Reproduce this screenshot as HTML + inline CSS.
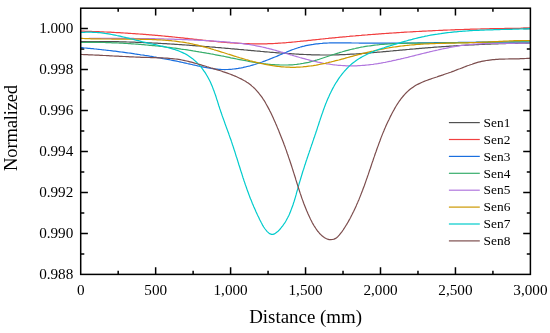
<!DOCTYPE html>
<html><head><meta charset="utf-8"><title>Normalized vs Distance</title>
<style>html,body{margin:0;padding:0;background:#fff;}svg{display:block;}text{font-family:"Liberation Serif","Times New Roman",serif;fill:#000;}</style></head><body>
<svg width="550" height="333" viewBox="0 0 550 333">
<rect x="0" y="0" width="550" height="333" fill="#fff"/>
<path d="M118.18,274.4v-3.6 M118.18,8.2v3.6 M155.65,274.4v-7.2 M155.65,8.2v7.2 M193.12,274.4v-3.6 M193.12,8.2v3.6 M230.60,274.4v-7.2 M230.60,8.2v7.2 M268.07,274.4v-3.6 M268.07,8.2v3.6 M305.55,274.4v-7.2 M305.55,8.2v7.2 M343.02,274.4v-3.6 M343.02,8.2v3.6 M380.50,274.4v-7.2 M380.50,8.2v7.2 M417.97,274.4v-3.6 M417.97,8.2v3.6 M455.45,274.4v-7.2 M455.45,8.2v7.2 M492.92,274.4v-3.6 M492.92,8.2v3.6 M80.7,253.94h3.6 M530.4,253.94h-3.6 M80.7,233.45h7.2 M530.4,233.45h-7.2 M80.7,212.97h3.6 M530.4,212.97h-3.6 M80.7,192.48h7.2 M530.4,192.48h-7.2 M80.7,172.00h3.6 M530.4,172.00h-3.6 M80.7,151.51h7.2 M530.4,151.51h-7.2 M80.7,131.03h3.6 M530.4,131.03h-3.6 M80.7,110.54h7.2 M530.4,110.54h-7.2 M80.7,90.06h3.6 M530.4,90.06h-3.6 M80.7,69.57h7.2 M530.4,69.57h-7.2 M80.7,49.09h3.6 M530.4,49.09h-3.6 M80.7,28.60h7.2 M530.4,28.60h-7.2" stroke="#000" stroke-width="1.5" fill="none"/>
<g fill="none" stroke-width="1.2" stroke-linejoin="round">
<path stroke="#515151" d="M80.7,41.6 L82.2,41.6 L83.7,41.6 L85.2,41.6 L86.7,41.6 L88.2,41.5 L89.7,41.5 L91.2,41.5 L92.7,41.5 L94.2,41.5 L95.7,41.5 L97.2,41.5 L98.7,41.5 L100.2,41.5 L101.7,41.5 L103.2,41.5 L104.7,41.5 L106.2,41.6 L107.7,41.6 L109.2,41.6 L110.7,41.6 L112.2,41.6 L113.7,41.7 L115.2,41.7 L116.7,41.7 L118.2,41.7 L119.7,41.8 L121.2,41.8 L122.7,41.8 L124.2,41.9 L125.7,41.9 L127.2,42.0 L128.7,42.0 L130.2,42.1 L131.7,42.1 L133.2,42.2 L134.7,42.2 L136.2,42.3 L137.7,42.3 L139.2,42.4 L140.7,42.5 L142.2,42.5 L143.7,42.6 L145.2,42.6 L146.7,42.7 L148.2,42.8 L149.7,42.9 L151.2,42.9 L152.7,43.0 L154.2,43.1 L155.7,43.2 L157.2,43.2 L158.7,43.3 L160.2,43.4 L161.7,43.5 L163.2,43.6 L164.7,43.7 L166.2,43.7 L167.7,43.8 L169.2,43.9 L170.7,44.0 L172.2,44.1 L173.7,44.2 L175.2,44.3 L176.7,44.4 L178.2,44.5 L179.7,44.6 L181.2,44.7 L182.7,44.8 L184.2,44.9 L185.7,45.0 L187.2,45.1 L188.7,45.2 L190.2,45.3 L191.7,45.5 L193.2,45.6 L194.7,45.7 L196.2,45.8 L197.7,45.9 L199.2,46.0 L200.7,46.1 L202.2,46.3 L203.7,46.4 L205.2,46.5 L206.7,46.6 L208.2,46.7 L209.7,46.9 L211.2,47.0 L212.7,47.1 L214.2,47.2 L215.7,47.4 L217.2,47.5 L218.7,47.6 L220.2,47.7 L221.7,47.9 L223.2,48.0 L224.7,48.1 L226.2,48.3 L227.7,48.4 L229.2,48.5 L230.7,48.7 L232.2,48.8 L233.7,48.9 L235.2,49.1 L236.7,49.2 L238.2,49.3 L239.7,49.5 L241.2,49.6 L242.7,49.7 L244.2,49.9 L245.7,50.0 L247.2,50.1 L248.7,50.3 L250.2,50.4 L251.7,50.6 L253.2,50.7 L254.7,50.8 L256.2,51.0 L257.7,51.1 L259.2,51.2 L260.7,51.4 L262.2,51.5 L263.7,51.6 L265.2,51.8 L266.7,51.9 L268.2,52.0 L269.7,52.2 L271.2,52.3 L272.7,52.4 L274.2,52.5 L275.7,52.6 L277.2,52.8 L278.7,52.9 L280.2,53.0 L281.7,53.1 L283.2,53.2 L284.7,53.3 L286.2,53.4 L287.7,53.5 L289.2,53.6 L290.7,53.7 L292.2,53.8 L293.7,53.9 L295.2,54.0 L296.7,54.1 L298.2,54.2 L299.7,54.3 L301.2,54.3 L302.7,54.4 L304.2,54.5 L305.7,54.5 L307.2,54.6 L308.7,54.7 L310.2,54.7 L311.7,54.8 L313.2,54.8 L314.7,54.8 L316.2,54.9 L317.7,54.9 L319.2,54.9 L320.7,55.0 L322.2,55.0 L323.7,55.0 L325.2,55.0 L326.7,55.0 L328.2,55.0 L329.7,55.0 L331.2,55.0 L332.7,54.9 L334.2,54.9 L335.7,54.9 L337.2,54.8 L338.7,54.8 L340.2,54.7 L341.7,54.7 L343.2,54.6 L344.7,54.6 L346.2,54.5 L347.7,54.4 L349.2,54.3 L350.7,54.2 L352.2,54.2 L353.7,54.1 L355.2,54.0 L356.7,53.9 L358.2,53.8 L359.7,53.7 L361.2,53.6 L362.7,53.4 L364.2,53.3 L365.7,53.2 L367.2,53.1 L368.7,53.0 L370.2,52.9 L371.7,52.7 L373.2,52.6 L374.7,52.5 L376.2,52.4 L377.7,52.2 L379.2,52.1 L380.7,52.0 L382.2,51.8 L383.7,51.7 L385.2,51.6 L386.7,51.4 L388.2,51.3 L389.7,51.2 L391.2,51.0 L392.7,50.9 L394.2,50.7 L395.7,50.6 L397.2,50.5 L398.7,50.3 L400.2,50.2 L401.7,50.1 L403.2,49.9 L404.7,49.8 L406.2,49.6 L407.7,49.5 L409.2,49.4 L410.7,49.2 L412.2,49.1 L413.7,49.0 L415.2,48.8 L416.7,48.7 L418.2,48.6 L419.7,48.4 L421.2,48.3 L422.7,48.2 L424.2,48.1 L425.7,47.9 L427.2,47.8 L428.7,47.7 L430.2,47.6 L431.7,47.5 L433.2,47.3 L434.7,47.2 L436.2,47.1 L437.7,47.0 L439.2,46.9 L440.7,46.8 L442.2,46.7 L443.7,46.6 L445.2,46.5 L446.7,46.4 L448.2,46.3 L449.7,46.2 L451.2,46.1 L452.7,46.0 L454.2,45.9 L455.7,45.8 L457.2,45.7 L458.7,45.6 L460.2,45.5 L461.7,45.4 L463.2,45.3 L464.7,45.3 L466.2,45.2 L467.7,45.1 L469.2,45.0 L470.7,44.9 L472.2,44.9 L473.7,44.8 L475.2,44.7 L476.7,44.6 L478.2,44.6 L479.7,44.5 L481.2,44.4 L482.7,44.4 L484.2,44.3 L485.7,44.2 L487.2,44.2 L488.7,44.1 L490.2,44.1 L491.7,44.0 L493.2,43.9 L494.7,43.9 L496.2,43.8 L497.7,43.8 L499.2,43.7 L500.7,43.7 L502.2,43.6 L503.7,43.6 L505.2,43.6 L506.7,43.5 L508.2,43.5 L509.7,43.4 L511.2,43.4 L512.7,43.4 L514.2,43.3 L515.7,43.3 L517.2,43.3 L518.7,43.2 L520.2,43.2 L521.7,43.2 L523.2,43.1 L524.7,43.1 L526.2,43.1 L527.7,43.1 L530.4,43.0"/>
<path stroke="#F14040" d="M80.7,31.1 L82.2,31.2 L83.7,31.2 L85.2,31.3 L86.7,31.3 L88.2,31.3 L89.7,31.4 L91.2,31.4 L92.7,31.5 L94.2,31.5 L95.7,31.6 L97.2,31.7 L98.7,31.7 L100.2,31.8 L101.7,31.8 L103.2,31.9 L104.7,32.0 L106.2,32.0 L107.7,32.1 L109.2,32.2 L110.7,32.2 L112.2,32.3 L113.7,32.4 L115.2,32.5 L116.7,32.6 L118.2,32.6 L119.7,32.7 L121.2,32.8 L122.7,32.9 L124.2,33.0 L125.7,33.1 L127.2,33.2 L128.7,33.3 L130.2,33.4 L131.7,33.5 L133.2,33.6 L134.7,33.7 L136.2,33.8 L137.7,33.9 L139.2,34.0 L140.7,34.1 L142.2,34.2 L143.7,34.3 L145.2,34.4 L146.7,34.6 L148.2,34.7 L149.7,34.8 L151.2,34.9 L152.7,35.1 L154.2,35.2 L155.7,35.3 L157.2,35.4 L158.7,35.6 L160.2,35.7 L161.7,35.8 L163.2,36.0 L164.7,36.1 L166.2,36.3 L167.7,36.4 L169.2,36.6 L170.7,36.7 L172.2,36.8 L173.7,37.0 L175.2,37.2 L176.7,37.3 L178.2,37.5 L179.7,37.6 L181.2,37.8 L182.7,37.9 L184.2,38.1 L185.7,38.3 L187.2,38.4 L188.7,38.6 L190.2,38.8 L191.7,38.9 L193.2,39.1 L194.7,39.3 L196.2,39.4 L197.7,39.6 L199.2,39.8 L200.7,39.9 L202.2,40.1 L203.7,40.3 L205.2,40.4 L206.7,40.6 L208.2,40.7 L209.7,40.9 L211.2,41.1 L212.7,41.2 L214.2,41.4 L215.7,41.5 L217.2,41.6 L218.7,41.8 L220.2,41.9 L221.7,42.1 L223.2,42.2 L224.7,42.3 L226.2,42.4 L227.7,42.6 L229.2,42.7 L230.7,42.8 L232.2,42.9 L233.7,43.0 L235.2,43.1 L236.7,43.2 L238.2,43.3 L239.7,43.3 L241.2,43.4 L242.7,43.5 L244.2,43.6 L245.7,43.6 L247.2,43.7 L248.7,43.7 L250.2,43.8 L251.7,43.8 L253.2,43.8 L254.7,43.8 L256.2,43.9 L257.7,43.9 L259.2,43.9 L260.7,43.9 L262.2,43.9 L263.7,43.8 L265.2,43.8 L266.7,43.8 L268.2,43.7 L269.7,43.7 L271.2,43.6 L272.7,43.6 L274.2,43.5 L275.7,43.4 L277.2,43.3 L278.7,43.2 L280.2,43.1 L281.7,43.0 L283.2,42.9 L284.7,42.8 L286.2,42.7 L287.7,42.5 L289.2,42.4 L290.7,42.3 L292.2,42.1 L293.7,42.0 L295.2,41.8 L296.7,41.7 L298.2,41.5 L299.7,41.4 L301.2,41.2 L302.7,41.1 L304.2,40.9 L305.7,40.8 L307.2,40.6 L308.7,40.4 L310.2,40.3 L311.7,40.1 L313.2,39.9 L314.7,39.8 L316.2,39.6 L317.7,39.5 L319.2,39.3 L320.7,39.1 L322.2,39.0 L323.7,38.8 L325.2,38.7 L326.7,38.5 L328.2,38.4 L329.7,38.2 L331.2,38.1 L332.7,37.9 L334.2,37.8 L335.7,37.6 L337.2,37.5 L338.7,37.3 L340.2,37.2 L341.7,37.1 L343.2,36.9 L344.7,36.8 L346.2,36.7 L347.7,36.5 L349.2,36.4 L350.7,36.2 L352.2,36.1 L353.7,36.0 L355.2,35.9 L356.7,35.7 L358.2,35.6 L359.7,35.5 L361.2,35.4 L362.7,35.2 L364.2,35.1 L365.7,35.0 L367.2,34.9 L368.7,34.7 L370.2,34.6 L371.7,34.5 L373.2,34.4 L374.7,34.3 L376.2,34.2 L377.7,34.1 L379.2,33.9 L380.7,33.8 L382.2,33.7 L383.7,33.6 L385.2,33.5 L386.7,33.4 L388.2,33.3 L389.7,33.2 L391.2,33.1 L392.7,33.0 L394.2,32.9 L395.7,32.8 L397.2,32.7 L398.7,32.6 L400.2,32.5 L401.7,32.4 L403.2,32.3 L404.7,32.2 L406.2,32.1 L407.7,32.0 L409.2,32.0 L410.7,31.9 L412.2,31.8 L413.7,31.7 L415.2,31.6 L416.7,31.5 L418.2,31.5 L419.7,31.4 L421.2,31.3 L422.7,31.2 L424.2,31.1 L425.7,31.1 L427.2,31.0 L428.7,30.9 L430.2,30.8 L431.7,30.8 L433.2,30.7 L434.7,30.6 L436.2,30.5 L437.7,30.5 L439.2,30.4 L440.7,30.3 L442.2,30.3 L443.7,30.2 L445.2,30.2 L446.7,30.1 L448.2,30.0 L449.7,30.0 L451.2,29.9 L452.7,29.9 L454.2,29.8 L455.7,29.7 L457.2,29.7 L458.7,29.6 L460.2,29.6 L461.7,29.5 L463.2,29.5 L464.7,29.4 L466.2,29.4 L467.7,29.3 L469.2,29.3 L470.7,29.2 L472.2,29.2 L473.7,29.1 L475.2,29.1 L476.7,29.1 L478.2,29.0 L479.7,29.0 L481.2,28.9 L482.7,28.9 L484.2,28.9 L485.7,28.8 L487.2,28.8 L488.7,28.8 L490.2,28.7 L491.7,28.7 L493.2,28.7 L494.7,28.6 L496.2,28.6 L497.7,28.6 L499.2,28.5 L500.7,28.5 L502.2,28.5 L503.7,28.5 L505.2,28.4 L506.7,28.4 L508.2,28.4 L509.7,28.4 L511.2,28.4 L512.7,28.3 L514.2,28.3 L515.7,28.3 L517.2,28.3 L518.7,28.3 L520.2,28.3 L521.7,28.2 L523.2,28.2 L524.7,28.2 L526.2,28.2 L527.7,28.2 L530.4,28.2"/>
<path stroke="#1A6FDF" d="M80.7,47.6 L82.2,47.7 L83.7,47.9 L85.2,48.0 L86.7,48.1 L88.2,48.3 L89.7,48.4 L91.2,48.6 L92.7,48.7 L94.2,48.9 L95.7,49.0 L97.2,49.2 L98.7,49.3 L100.2,49.5 L101.7,49.7 L103.2,49.8 L104.7,50.0 L106.2,50.2 L107.7,50.3 L109.2,50.5 L110.7,50.7 L112.2,50.9 L113.7,51.1 L115.2,51.2 L116.7,51.4 L118.2,51.6 L119.7,51.8 L121.2,52.0 L122.7,52.2 L124.2,52.4 L125.7,52.6 L127.2,52.8 L128.7,53.0 L130.2,53.2 L131.7,53.4 L133.2,53.6 L134.7,53.9 L136.2,54.1 L137.7,54.3 L139.2,54.5 L140.7,54.8 L142.2,55.0 L143.7,55.2 L145.2,55.5 L146.7,55.7 L148.2,55.9 L149.7,56.2 L151.2,56.4 L152.7,56.7 L154.2,57.0 L155.7,57.2 L157.2,57.5 L158.7,57.7 L160.2,58.0 L161.7,58.3 L163.2,58.6 L164.7,58.8 L166.2,59.1 L167.7,59.4 L169.2,59.7 L170.7,60.0 L172.2,60.3 L173.7,60.6 L175.2,60.9 L176.7,61.2 L178.2,61.5 L179.7,61.8 L181.2,62.2 L182.7,62.5 L184.2,62.8 L185.7,63.1 L187.2,63.5 L188.7,63.8 L190.2,64.2 L191.7,64.5 L193.2,64.9 L194.7,65.2 L196.2,65.5 L197.7,65.9 L199.2,66.2 L200.7,66.5 L202.2,66.8 L203.7,67.2 L205.2,67.4 L206.7,67.7 L208.2,68.0 L209.7,68.2 L211.2,68.5 L212.7,68.7 L214.2,68.9 L215.7,69.1 L217.2,69.2 L218.7,69.3 L220.2,69.4 L221.7,69.5 L223.2,69.5 L224.7,69.6 L226.2,69.5 L227.7,69.5 L229.2,69.4 L230.7,69.3 L232.2,69.2 L233.7,69.0 L235.2,68.8 L236.7,68.6 L238.2,68.4 L239.7,68.1 L241.2,67.9 L242.7,67.6 L244.2,67.2 L245.7,66.9 L247.2,66.5 L248.7,66.2 L250.2,65.8 L251.7,65.3 L253.2,64.9 L254.7,64.5 L256.2,64.0 L257.7,63.5 L259.2,63.0 L260.7,62.5 L262.2,62.0 L263.7,61.4 L265.2,60.9 L266.7,60.3 L268.2,59.7 L269.7,59.1 L271.2,58.5 L272.7,57.9 L274.2,57.3 L275.7,56.7 L277.2,56.1 L278.7,55.4 L280.2,54.8 L281.7,54.2 L283.2,53.5 L284.7,52.9 L286.2,52.3 L287.7,51.6 L289.2,51.0 L290.7,50.4 L292.2,49.8 L293.7,49.3 L295.2,48.7 L296.7,48.2 L298.2,47.7 L299.7,47.3 L301.2,46.8 L302.7,46.4 L304.2,46.1 L305.7,45.7 L307.2,45.4 L308.7,45.1 L310.2,44.8 L311.7,44.6 L313.2,44.4 L314.7,44.1 L316.2,43.9 L317.7,43.8 L319.2,43.6 L320.7,43.5 L322.2,43.4 L323.7,43.2 L325.2,43.1 L326.7,43.1 L328.2,43.0 L329.7,42.9 L331.2,42.9 L332.7,42.9 L334.2,42.8 L335.7,42.8 L337.2,42.8 L338.7,42.8 L340.2,42.8 L341.7,42.8 L343.2,42.8 L344.7,42.8 L346.2,42.9 L347.7,42.9 L349.2,42.9 L350.7,42.9 L352.2,43.0 L353.7,43.0 L355.2,43.0 L356.7,43.0 L358.2,43.0 L359.7,43.1 L361.2,43.1 L362.7,43.1 L364.2,43.1 L365.7,43.1 L367.2,43.1 L368.7,43.1 L370.2,43.2 L371.7,43.2 L373.2,43.2 L374.7,43.2 L376.2,43.2 L377.7,43.2 L379.2,43.2 L380.7,43.2 L382.2,43.2 L383.7,43.2 L385.2,43.2 L386.7,43.2 L388.2,43.2 L389.7,43.2 L391.2,43.2 L392.7,43.2 L394.2,43.1 L395.7,43.1 L397.2,43.1 L398.7,43.1 L400.2,43.1 L401.7,43.1 L403.2,43.1 L404.7,43.1 L406.2,43.1 L407.7,43.1 L409.2,43.0 L410.7,43.0 L412.2,43.0 L413.7,43.0 L415.2,43.0 L416.7,43.0 L418.2,42.9 L419.7,42.9 L421.2,42.9 L422.7,42.9 L424.2,42.9 L425.7,42.9 L427.2,42.8 L428.7,42.8 L430.2,42.8 L431.7,42.8 L433.2,42.8 L434.7,42.7 L436.2,42.7 L437.7,42.7 L439.2,42.7 L440.7,42.7 L442.2,42.6 L443.7,42.6 L445.2,42.6 L446.7,42.6 L448.2,42.6 L449.7,42.5 L451.2,42.5 L452.7,42.5 L454.2,42.5 L455.7,42.5 L457.2,42.5 L458.7,42.4 L460.2,42.4 L461.7,42.4 L463.2,42.4 L464.7,42.4 L466.2,42.3 L467.7,42.3 L469.2,42.3 L470.7,42.3 L472.2,42.3 L473.7,42.3 L475.2,42.3 L476.7,42.2 L478.2,42.2 L479.7,42.2 L481.2,42.2 L482.7,42.2 L484.2,42.2 L485.7,42.2 L487.2,42.2 L488.7,42.1 L490.2,42.1 L491.7,42.1 L493.2,42.1 L494.7,42.1 L496.2,42.1 L497.7,42.1 L499.2,42.1 L500.7,42.1 L502.2,42.1 L503.7,42.1 L505.2,42.1 L506.7,42.1 L508.2,42.1 L509.7,42.1 L511.2,42.1 L512.7,42.1 L514.2,42.1 L515.7,42.1 L517.2,42.2 L518.7,42.2 L520.2,42.2 L521.7,42.2 L523.2,42.2 L524.7,42.2 L526.2,42.2 L527.7,42.3 L530.4,42.3"/>
<path stroke="#37AD6B" d="M80.7,42.5 L82.2,42.5 L83.7,42.5 L85.2,42.5 L86.7,42.4 L88.2,42.4 L89.7,42.4 L91.2,42.4 L92.7,42.4 L94.2,42.4 L95.7,42.4 L97.2,42.4 L98.7,42.4 L100.2,42.5 L101.7,42.5 L103.2,42.5 L104.7,42.5 L106.2,42.6 L107.7,42.6 L109.2,42.7 L110.7,42.7 L112.2,42.8 L113.7,42.8 L115.2,42.9 L116.7,42.9 L118.2,43.0 L119.7,43.1 L121.2,43.1 L122.7,43.2 L124.2,43.3 L125.7,43.4 L127.2,43.5 L128.7,43.6 L130.2,43.7 L131.7,43.8 L133.2,43.9 L134.7,44.0 L136.2,44.1 L137.7,44.2 L139.2,44.3 L140.7,44.4 L142.2,44.6 L143.7,44.7 L145.2,44.8 L146.7,45.0 L148.2,45.1 L149.7,45.3 L151.2,45.4 L152.7,45.6 L154.2,45.7 L155.7,45.9 L157.2,46.0 L158.7,46.2 L160.2,46.4 L161.7,46.5 L163.2,46.7 L164.7,46.9 L166.2,47.1 L167.7,47.3 L169.2,47.4 L170.7,47.6 L172.2,47.8 L173.7,48.0 L175.2,48.2 L176.7,48.4 L178.2,48.6 L179.7,48.8 L181.2,49.1 L182.7,49.3 L184.2,49.5 L185.7,49.7 L187.2,49.9 L188.7,50.2 L190.2,50.4 L191.7,50.6 L193.2,50.9 L194.7,51.1 L196.2,51.4 L197.7,51.6 L199.2,51.9 L200.7,52.1 L202.2,52.4 L203.7,52.6 L205.2,52.9 L206.7,53.2 L208.2,53.4 L209.7,53.7 L211.2,54.0 L212.7,54.2 L214.2,54.5 L215.7,54.8 L217.2,55.1 L218.7,55.4 L220.2,55.7 L221.7,56.0 L223.2,56.2 L224.7,56.5 L226.2,56.8 L227.7,57.1 L229.2,57.4 L230.7,57.8 L232.2,58.1 L233.7,58.4 L235.2,58.7 L236.7,59.0 L238.2,59.3 L239.7,59.6 L241.2,59.9 L242.7,60.2 L244.2,60.4 L245.7,60.7 L247.2,61.0 L248.7,61.3 L250.2,61.6 L251.7,61.8 L253.2,62.1 L254.7,62.3 L256.2,62.6 L257.7,62.8 L259.2,63.0 L260.7,63.3 L262.2,63.5 L263.7,63.7 L265.2,63.8 L266.7,64.0 L268.2,64.2 L269.7,64.3 L271.2,64.5 L272.7,64.6 L274.2,64.7 L275.7,64.8 L277.2,64.9 L278.7,64.9 L280.2,65.0 L281.7,65.0 L283.2,65.0 L284.7,65.0 L286.2,65.0 L287.7,65.0 L289.2,64.9 L290.7,64.9 L292.2,64.8 L293.7,64.7 L295.2,64.5 L296.7,64.4 L298.2,64.2 L299.7,64.0 L301.2,63.7 L302.7,63.5 L304.2,63.2 L305.7,62.9 L307.2,62.6 L308.7,62.3 L310.2,61.9 L311.7,61.5 L313.2,61.1 L314.7,60.6 L316.2,60.2 L317.7,59.7 L319.2,59.3 L320.7,58.8 L322.2,58.3 L323.7,57.8 L325.2,57.3 L326.7,56.8 L328.2,56.3 L329.7,55.8 L331.2,55.3 L332.7,54.8 L334.2,54.3 L335.7,53.8 L337.2,53.3 L338.7,52.9 L340.2,52.4 L341.7,52.0 L343.2,51.5 L344.7,51.1 L346.2,50.7 L347.7,50.3 L349.2,49.9 L350.7,49.5 L352.2,49.2 L353.7,48.8 L355.2,48.5 L356.7,48.1 L358.2,47.8 L359.7,47.5 L361.2,47.2 L362.7,47.0 L364.2,46.7 L365.7,46.4 L367.2,46.2 L368.7,46.0 L370.2,45.8 L371.7,45.6 L373.2,45.4 L374.7,45.2 L376.2,45.0 L377.7,44.8 L379.2,44.7 L380.7,44.5 L382.2,44.4 L383.7,44.3 L385.2,44.2 L386.7,44.1 L388.2,44.0 L389.7,43.9 L391.2,43.8 L392.7,43.7 L394.2,43.6 L395.7,43.6 L397.2,43.5 L398.7,43.5 L400.2,43.4 L401.7,43.4 L403.2,43.3 L404.7,43.3 L406.2,43.3 L407.7,43.2 L409.2,43.2 L410.7,43.2 L412.2,43.2 L413.7,43.2 L415.2,43.2 L416.7,43.1 L418.2,43.1 L419.7,43.1 L421.2,43.1 L422.7,43.1 L424.2,43.1 L425.7,43.1 L427.2,43.1 L428.7,43.1 L430.2,43.1 L431.7,43.0 L433.2,43.0 L434.7,43.0 L436.2,43.0 L437.7,43.0 L439.2,43.0 L440.7,43.0 L442.2,42.9 L443.7,42.9 L445.2,42.9 L446.7,42.9 L448.2,42.9 L449.7,42.8 L451.2,42.8 L452.7,42.8 L454.2,42.8 L455.7,42.8 L457.2,42.7 L458.7,42.7 L460.2,42.7 L461.7,42.7 L463.2,42.7 L464.7,42.6 L466.2,42.6 L467.7,42.6 L469.2,42.6 L470.7,42.5 L472.2,42.5 L473.7,42.5 L475.2,42.5 L476.7,42.4 L478.2,42.4 L479.7,42.4 L481.2,42.4 L482.7,42.3 L484.2,42.3 L485.7,42.3 L487.2,42.3 L488.7,42.2 L490.2,42.2 L491.7,42.2 L493.2,42.2 L494.7,42.2 L496.2,42.1 L497.7,42.1 L499.2,42.1 L500.7,42.1 L502.2,42.1 L503.7,42.0 L505.2,42.0 L506.7,42.0 L508.2,42.0 L509.7,42.0 L511.2,41.9 L512.7,41.9 L514.2,41.9 L515.7,41.9 L517.2,41.9 L518.7,41.9 L520.2,41.9 L521.7,41.9 L523.2,41.8 L524.7,41.8 L526.2,41.8 L527.7,41.8 L530.4,41.8"/>
<path stroke="#B177DE" d="M80.7,38.5 L82.2,38.5 L83.7,38.5 L85.2,38.5 L86.7,38.5 L88.2,38.5 L89.7,38.4 L91.2,38.4 L92.7,38.4 L94.2,38.4 L95.7,38.4 L97.2,38.4 L98.7,38.4 L100.2,38.4 L101.7,38.4 L103.2,38.4 L104.7,38.4 L106.2,38.4 L107.7,38.4 L109.2,38.3 L110.7,38.3 L112.2,38.3 L113.7,38.3 L115.2,38.3 L116.7,38.3 L118.2,38.4 L119.7,38.4 L121.2,38.4 L122.7,38.4 L124.2,38.4 L125.7,38.4 L127.2,38.4 L128.7,38.4 L130.2,38.4 L131.7,38.4 L133.2,38.4 L134.7,38.5 L136.2,38.5 L137.7,38.5 L139.2,38.5 L140.7,38.5 L142.2,38.5 L143.7,38.6 L145.2,38.6 L146.7,38.6 L148.2,38.6 L149.7,38.7 L151.2,38.7 L152.7,38.7 L154.2,38.7 L155.7,38.8 L157.2,38.8 L158.7,38.8 L160.2,38.9 L161.7,38.9 L163.2,38.9 L164.7,39.0 L166.2,39.0 L167.7,39.1 L169.2,39.1 L170.7,39.2 L172.2,39.2 L173.7,39.2 L175.2,39.3 L176.7,39.3 L178.2,39.4 L179.7,39.4 L181.2,39.5 L182.7,39.6 L184.2,39.6 L185.7,39.7 L187.2,39.7 L188.7,39.8 L190.2,39.9 L191.7,39.9 L193.2,40.0 L194.7,40.1 L196.2,40.1 L197.7,40.2 L199.2,40.3 L200.7,40.3 L202.2,40.4 L203.7,40.5 L205.2,40.6 L206.7,40.7 L208.2,40.7 L209.7,40.8 L211.2,40.9 L212.7,41.0 L214.2,41.1 L215.7,41.2 L217.2,41.3 L218.7,41.4 L220.2,41.5 L221.7,41.6 L223.2,41.7 L224.7,41.8 L226.2,42.0 L227.7,42.1 L229.2,42.2 L230.7,42.4 L232.2,42.5 L233.7,42.6 L235.2,42.8 L236.7,43.0 L238.2,43.1 L239.7,43.3 L241.2,43.5 L242.7,43.7 L244.2,43.9 L245.7,44.1 L247.2,44.3 L248.7,44.5 L250.2,44.7 L251.7,45.0 L253.2,45.2 L254.7,45.5 L256.2,45.8 L257.7,46.1 L259.2,46.4 L260.7,46.7 L262.2,47.0 L263.7,47.3 L265.2,47.7 L266.7,48.1 L268.2,48.4 L269.7,48.8 L271.2,49.2 L272.7,49.6 L274.2,50.0 L275.7,50.4 L277.2,50.9 L278.7,51.3 L280.2,51.7 L281.7,52.2 L283.2,52.6 L284.7,53.0 L286.2,53.5 L287.7,53.9 L289.2,54.4 L290.7,54.8 L292.2,55.3 L293.7,55.7 L295.2,56.2 L296.7,56.6 L298.2,57.0 L299.7,57.5 L301.2,57.9 L302.7,58.3 L304.2,58.7 L305.7,59.1 L307.2,59.5 L308.7,59.9 L310.2,60.3 L311.7,60.7 L313.2,61.0 L314.7,61.4 L316.2,61.7 L317.7,62.1 L319.2,62.4 L320.7,62.7 L322.2,63.0 L323.7,63.3 L325.2,63.5 L326.7,63.8 L328.2,64.0 L329.7,64.2 L331.2,64.5 L332.7,64.7 L334.2,64.8 L335.7,65.0 L337.2,65.2 L338.7,65.3 L340.2,65.4 L341.7,65.5 L343.2,65.6 L344.7,65.7 L346.2,65.8 L347.7,65.8 L349.2,65.8 L350.7,65.9 L352.2,65.9 L353.7,65.8 L355.2,65.8 L356.7,65.8 L358.2,65.7 L359.7,65.6 L361.2,65.5 L362.7,65.4 L364.2,65.3 L365.7,65.1 L367.2,65.0 L368.7,64.8 L370.2,64.6 L371.7,64.5 L373.2,64.3 L374.7,64.0 L376.2,63.8 L377.7,63.6 L379.2,63.3 L380.7,63.1 L382.2,62.8 L383.7,62.5 L385.2,62.3 L386.7,62.0 L388.2,61.7 L389.7,61.4 L391.2,61.1 L392.7,60.7 L394.2,60.4 L395.7,60.1 L397.2,59.7 L398.7,59.4 L400.2,59.1 L401.7,58.7 L403.2,58.4 L404.7,58.0 L406.2,57.6 L407.7,57.3 L409.2,56.9 L410.7,56.5 L412.2,56.2 L413.7,55.8 L415.2,55.4 L416.7,55.0 L418.2,54.7 L419.7,54.3 L421.2,53.9 L422.7,53.5 L424.2,53.2 L425.7,52.8 L427.2,52.4 L428.7,52.1 L430.2,51.7 L431.7,51.4 L433.2,51.0 L434.7,50.7 L436.2,50.3 L437.7,50.0 L439.2,49.6 L440.7,49.3 L442.2,49.0 L443.7,48.7 L445.2,48.4 L446.7,48.1 L448.2,47.8 L449.7,47.5 L451.2,47.2 L452.7,46.9 L454.2,46.7 L455.7,46.4 L457.2,46.2 L458.7,45.9 L460.2,45.7 L461.7,45.5 L463.2,45.3 L464.7,45.1 L466.2,44.9 L467.7,44.8 L469.2,44.6 L470.7,44.5 L472.2,44.3 L473.7,44.2 L475.2,44.1 L476.7,44.0 L478.2,43.9 L479.7,43.8 L481.2,43.8 L482.7,43.7 L484.2,43.6 L485.7,43.6 L487.2,43.5 L488.7,43.5 L490.2,43.5 L491.7,43.4 L493.2,43.4 L494.7,43.4 L496.2,43.4 L497.7,43.3 L499.2,43.3 L500.7,43.3 L502.2,43.3 L503.7,43.3 L505.2,43.3 L506.7,43.3 L508.2,43.3 L509.7,43.3 L511.2,43.3 L512.7,43.3 L514.2,43.3 L515.7,43.2 L517.2,43.2 L518.7,43.2 L520.2,43.2 L521.7,43.1 L523.2,43.1 L524.7,43.1 L526.2,43.0 L527.7,43.0 L530.4,42.9"/>
<path stroke="#CC9900" d="M80.7,38.4 L82.2,38.4 L83.7,38.5 L85.2,38.6 L86.7,38.6 L88.2,38.7 L89.7,38.7 L91.2,38.8 L92.7,38.8 L94.2,38.8 L95.7,38.9 L97.2,38.9 L98.7,38.9 L100.2,38.9 L101.7,39.0 L103.2,39.0 L104.7,39.0 L106.2,39.0 L107.7,39.0 L109.2,39.0 L110.7,39.0 L112.2,39.1 L113.7,39.1 L115.2,39.1 L116.7,39.1 L118.2,39.1 L119.7,39.1 L121.2,39.1 L122.7,39.1 L124.2,39.1 L125.7,39.1 L127.2,39.1 L128.7,39.1 L130.2,39.1 L131.7,39.1 L133.2,39.2 L134.7,39.2 L136.2,39.2 L137.7,39.2 L139.2,39.2 L140.7,39.3 L142.2,39.3 L143.7,39.3 L145.2,39.3 L146.7,39.4 L148.2,39.4 L149.7,39.5 L151.2,39.5 L152.7,39.6 L154.2,39.6 L155.7,39.7 L157.2,39.8 L158.7,39.8 L160.2,39.9 L161.7,40.0 L163.2,40.1 L164.7,40.2 L166.2,40.3 L167.7,40.4 L169.2,40.6 L170.7,40.7 L172.2,40.9 L173.7,41.0 L175.2,41.2 L176.7,41.4 L178.2,41.6 L179.7,41.8 L181.2,42.0 L182.7,42.2 L184.2,42.4 L185.7,42.7 L187.2,43.0 L188.7,43.2 L190.2,43.5 L191.7,43.8 L193.2,44.2 L194.7,44.5 L196.2,44.8 L197.7,45.2 L199.2,45.6 L200.7,46.0 L202.2,46.4 L203.7,46.8 L205.2,47.2 L206.7,47.6 L208.2,48.0 L209.7,48.4 L211.2,48.9 L212.7,49.3 L214.2,49.8 L215.7,50.2 L217.2,50.7 L218.7,51.1 L220.2,51.6 L221.7,52.1 L223.2,52.5 L224.7,53.0 L226.2,53.5 L227.7,54.0 L229.2,54.4 L230.7,54.9 L232.2,55.4 L233.7,55.9 L235.2,56.3 L236.7,56.8 L238.2,57.2 L239.7,57.7 L241.2,58.2 L242.7,58.6 L244.2,59.0 L245.7,59.5 L247.2,59.9 L248.7,60.3 L250.2,60.8 L251.7,61.2 L253.2,61.6 L254.7,61.9 L256.2,62.3 L257.7,62.7 L259.2,63.0 L260.7,63.4 L262.2,63.7 L263.7,64.0 L265.2,64.3 L266.7,64.6 L268.2,64.9 L269.7,65.2 L271.2,65.4 L272.7,65.7 L274.2,65.9 L275.7,66.1 L277.2,66.3 L278.7,66.5 L280.2,66.6 L281.7,66.8 L283.2,66.9 L284.7,67.0 L286.2,67.1 L287.7,67.2 L289.2,67.2 L290.7,67.3 L292.2,67.3 L293.7,67.3 L295.2,67.3 L296.7,67.2 L298.2,67.2 L299.7,67.1 L301.2,67.0 L302.7,66.9 L304.2,66.7 L305.7,66.6 L307.2,66.4 L308.7,66.2 L310.2,66.0 L311.7,65.8 L313.2,65.6 L314.7,65.3 L316.2,65.1 L317.7,64.8 L319.2,64.5 L320.7,64.2 L322.2,63.9 L323.7,63.6 L325.2,63.3 L326.7,62.9 L328.2,62.6 L329.7,62.2 L331.2,61.9 L332.7,61.5 L334.2,61.1 L335.7,60.7 L337.2,60.3 L338.7,60.0 L340.2,59.6 L341.7,59.2 L343.2,58.8 L344.7,58.4 L346.2,57.9 L347.7,57.5 L349.2,57.1 L350.7,56.7 L352.2,56.3 L353.7,55.9 L355.2,55.5 L356.7,55.1 L358.2,54.7 L359.7,54.3 L361.2,53.9 L362.7,53.5 L364.2,53.1 L365.7,52.8 L367.2,52.4 L368.7,52.0 L370.2,51.7 L371.7,51.3 L373.2,51.0 L374.7,50.6 L376.2,50.3 L377.7,50.0 L379.2,49.7 L380.7,49.4 L382.2,49.1 L383.7,48.8 L385.2,48.5 L386.7,48.2 L388.2,48.0 L389.7,47.7 L391.2,47.5 L392.7,47.2 L394.2,47.0 L395.7,46.8 L397.2,46.6 L398.7,46.4 L400.2,46.2 L401.7,46.0 L403.2,45.8 L404.7,45.6 L406.2,45.5 L407.7,45.3 L409.2,45.2 L410.7,45.0 L412.2,44.9 L413.7,44.8 L415.2,44.6 L416.7,44.5 L418.2,44.4 L419.7,44.3 L421.2,44.2 L422.7,44.1 L424.2,44.0 L425.7,44.0 L427.2,43.9 L428.7,43.8 L430.2,43.7 L431.7,43.7 L433.2,43.6 L434.7,43.6 L436.2,43.5 L437.7,43.5 L439.2,43.4 L440.7,43.4 L442.2,43.3 L443.7,43.3 L445.2,43.3 L446.7,43.2 L448.2,43.2 L449.7,43.2 L451.2,43.1 L452.7,43.1 L454.2,43.1 L455.7,43.0 L457.2,43.0 L458.7,43.0 L460.2,42.9 L461.7,42.9 L463.2,42.9 L464.7,42.8 L466.2,42.8 L467.7,42.8 L469.2,42.7 L470.7,42.7 L472.2,42.6 L473.7,42.6 L475.2,42.5 L476.7,42.5 L478.2,42.4 L479.7,42.4 L481.2,42.3 L482.7,42.2 L484.2,42.2 L485.7,42.1 L487.2,42.0 L488.7,41.9 L490.2,41.9 L491.7,41.8 L493.2,41.7 L494.7,41.6 L496.2,41.6 L497.7,41.5 L499.2,41.4 L500.7,41.3 L502.2,41.3 L503.7,41.2 L505.2,41.1 L506.7,41.1 L508.2,41.0 L509.7,40.9 L511.2,40.9 L512.7,40.8 L514.2,40.7 L515.7,40.7 L517.2,40.7 L518.7,40.6 L520.2,40.6 L521.7,40.5 L523.2,40.5 L524.7,40.5 L526.2,40.5 L527.7,40.5 L530.4,40.5"/>
<path stroke="#00CBCC" d="M80.7,32.5 L82.3,32.4 L84.1,32.3 L85.9,32.2 L87.7,32.2 L89.5,32.2 L91.2,32.2 L93.0,32.3 L94.7,32.3 L96.4,32.5 L98.2,32.6 L99.9,32.7 L101.6,32.9 L103.3,33.1 L105.0,33.4 L106.7,33.6 L108.4,33.9 L110.0,34.2 L111.7,34.5 L113.4,34.8 L115.1,35.1 L116.7,35.5 L118.4,35.8 L120.1,36.2 L121.7,36.6 L123.4,37.0 L125.1,37.4 L126.7,37.8 L128.4,38.2 L130.0,38.6 L131.7,39.0 L133.4,39.4 L135.0,39.9 L136.7,40.3 L138.4,40.7 L140.1,41.1 L141.7,41.6 L143.4,42.0 L145.1,42.4 L146.8,42.8 L148.5,43.2 L150.2,43.6 L151.9,44.0 L153.7,44.4 L155.4,44.7 L157.1,45.1 L158.8,45.5 L160.5,45.9 L162.3,46.2 L164.0,46.6 L165.7,47.0 L167.4,47.5 L169.1,47.9 L170.8,48.4 L172.4,48.8 L174.1,49.3 L175.7,49.9 L177.3,50.4 L178.9,51.0 L180.5,51.7 L182.1,52.4 L183.6,53.1 L185.1,53.8 L186.6,54.6 L188.0,55.5 L189.4,56.4 L190.8,57.4 L192.2,58.4 L193.5,59.5 L194.8,60.6 L196.0,61.7 L197.2,62.9 L198.4,64.1 L199.6,65.4 L200.7,66.7 L201.8,68.0 L202.8,69.4 L203.8,70.8 L204.8,72.2 L205.8,73.7 L206.7,75.2 L207.6,76.7 L208.4,78.2 L209.2,79.7 L210.0,81.3 L210.7,82.8 L211.4,84.4 L212.1,86.0 L212.7,87.6 L213.3,89.2 L214.0,90.9 L214.5,92.5 L215.1,94.1 L215.7,95.8 L216.2,97.4 L216.7,99.1 L217.3,100.7 L217.8,102.4 L218.3,104.0 L218.8,105.7 L219.4,107.3 L219.9,109.0 L220.5,110.6 L221.0,112.3 L221.6,113.9 L222.1,115.5 L222.7,117.1 L223.3,118.8 L223.9,120.4 L224.5,122.0 L225.0,123.6 L225.6,125.2 L226.2,126.9 L226.8,128.5 L227.4,130.1 L228.0,131.7 L228.6,133.3 L229.1,134.9 L229.7,136.6 L230.3,138.2 L230.9,139.8 L231.4,141.4 L232.0,143.1 L232.5,144.7 L233.1,146.4 L233.6,148.0 L234.1,149.6 L234.7,151.3 L235.2,152.9 L235.7,154.6 L236.2,156.2 L236.8,157.9 L237.3,159.5 L237.8,161.2 L238.3,162.8 L238.8,164.5 L239.4,166.2 L239.9,167.8 L240.4,169.5 L240.9,171.1 L241.5,172.8 L242.0,174.4 L242.5,176.0 L243.0,177.7 L243.6,179.3 L244.1,181.0 L244.7,182.6 L245.2,184.2 L245.8,185.9 L246.4,187.5 L246.9,189.1 L247.5,190.7 L248.1,192.3 L248.7,194.0 L249.3,195.6 L249.9,197.2 L250.5,198.8 L251.2,200.3 L251.8,201.9 L252.4,203.5 L253.1,205.1 L253.8,206.7 L254.5,208.2 L255.2,209.8 L255.9,211.4 L256.6,212.9 L257.3,214.5 L258.0,216.0 L258.8,217.6 L259.5,219.2 L260.3,220.7 L261.1,222.3 L261.9,223.8 L262.7,225.4 L263.7,227.0 L264.7,228.5 L265.9,230.0 L267.2,231.6 L268.7,232.9 L270.2,233.9 L271.6,234.3 L273.0,234.3 L274.4,233.9 L275.7,233.1 L277.0,232.1 L278.3,231.0 L279.4,229.8 L280.6,228.5 L281.6,227.2 L282.7,225.9 L283.6,224.5 L284.6,223.1 L285.5,221.7 L286.3,220.3 L287.1,218.8 L287.9,217.3 L288.7,215.7 L289.4,214.2 L290.1,212.6 L290.7,211.0 L291.3,209.4 L291.9,207.8 L292.5,206.2 L293.1,204.5 L293.6,202.8 L294.2,201.2 L294.7,199.5 L295.2,197.8 L295.7,196.1 L296.2,194.4 L296.6,192.7 L297.1,191.0 L297.6,189.3 L298.1,187.6 L298.5,185.9 L299.0,184.2 L299.5,182.5 L300.0,180.8 L300.5,179.2 L301.0,177.5 L301.5,175.8 L302.0,174.2 L302.5,172.5 L303.0,170.9 L303.6,169.2 L304.1,167.6 L304.6,165.9 L305.2,164.3 L305.7,162.6 L306.2,161.0 L306.8,159.4 L307.3,157.8 L307.9,156.1 L308.4,154.5 L309.0,152.9 L309.5,151.3 L310.1,149.7 L310.6,148.0 L311.2,146.4 L311.7,144.8 L312.3,143.2 L312.8,141.6 L313.4,139.9 L313.9,138.3 L314.5,136.7 L315.0,135.1 L315.6,133.5 L316.1,131.8 L316.7,130.2 L317.2,128.6 L317.7,126.9 L318.3,125.3 L318.8,123.7 L319.3,122.0 L319.9,120.4 L320.4,118.8 L321.0,117.1 L321.5,115.5 L322.1,113.9 L322.7,112.2 L323.2,110.6 L323.8,109.0 L324.4,107.4 L325.0,105.8 L325.6,104.1 L326.3,102.5 L326.9,100.9 L327.6,99.3 L328.3,97.7 L329.0,96.2 L329.7,94.6 L330.5,93.0 L331.2,91.5 L332.0,89.9 L332.8,88.4 L333.7,86.8 L334.5,85.3 L335.4,83.8 L336.3,82.3 L337.3,80.8 L338.2,79.4 L339.2,77.9 L340.2,76.5 L341.3,75.1 L342.4,73.7 L343.5,72.4 L344.6,71.0 L345.7,69.8 L346.9,68.5 L348.1,67.3 L349.3,66.1 L350.6,64.9 L351.9,63.8 L353.2,62.7 L354.6,61.7 L355.9,60.7 L357.3,59.7 L358.8,58.8 L360.2,57.9 L361.7,57.1 L363.2,56.2 L364.7,55.5 L366.2,54.7 L367.7,54.0 L369.3,53.2 L370.9,52.6 L372.5,51.9 L374.1,51.3 L375.7,50.6 L377.3,50.0 L378.9,49.4 L380.6,48.9 L382.2,48.3 L383.9,47.8 L385.5,47.2 L387.2,46.7 L388.9,46.2 L390.5,45.6 L392.2,45.1 L393.8,44.6 L395.5,44.1 L397.2,43.6 L398.8,43.1 L400.5,42.6 L402.1,42.1 L403.8,41.6 L405.5,41.2 L407.1,40.7 L408.8,40.2 L410.5,39.8 L412.1,39.4 L413.8,38.9 L415.5,38.5 L417.1,38.1 L418.8,37.7 L420.5,37.3 L422.2,36.9 L423.8,36.6 L425.5,36.2 L427.2,35.9 L428.9,35.5 L430.6,35.2 L432.3,34.9 L434.0,34.6 L435.7,34.3 L437.4,34.1 L439.1,33.8 L440.8,33.6 L442.5,33.3 L444.2,33.1 L445.9,32.9 L447.6,32.7 L449.3,32.5 L451.0,32.3 L452.7,32.1 L454.5,31.9 L456.2,31.8 L457.9,31.6 L459.6,31.5 L461.3,31.3 L463.1,31.2 L464.8,31.1 L466.5,31.0 L468.2,30.8 L470.0,30.7 L471.7,30.6 L473.4,30.5 L475.2,30.5 L476.9,30.4 L478.6,30.3 L480.4,30.2 L482.1,30.1 L483.8,30.1 L485.5,30.0 L487.3,29.9 L489.0,29.9 L490.7,29.8 L492.5,29.8 L494.2,29.7 L495.9,29.7 L497.7,29.6 L499.4,29.6 L501.1,29.5 L502.9,29.5 L504.6,29.4 L506.3,29.4 L508.0,29.3 L509.8,29.3 L511.5,29.3 L513.2,29.2 L514.9,29.2 L516.6,29.1 L518.4,29.1 L520.1,29.0 L521.8,28.9 L523.5,28.9 L525.2,28.8 L526.9,28.8 L528.6,28.7 L530.4,28.6"/>
<path stroke="#7D4E4E" d="M80.7,54.4 L82.3,54.5 L84.0,54.6 L85.6,54.6 L87.2,54.7 L88.9,54.8 L90.5,54.8 L92.1,54.9 L93.8,55.0 L95.4,55.1 L97.0,55.1 L98.7,55.2 L100.3,55.3 L102.0,55.4 L103.6,55.5 L105.2,55.5 L106.9,55.6 L108.5,55.7 L110.1,55.8 L111.8,55.9 L113.4,56.0 L115.0,56.1 L116.7,56.1 L118.3,56.2 L119.9,56.3 L121.6,56.4 L123.2,56.5 L124.8,56.5 L126.5,56.6 L128.1,56.7 L129.7,56.8 L131.4,56.9 L133.0,56.9 L134.6,57.0 L136.3,57.1 L137.9,57.1 L139.5,57.2 L141.2,57.3 L142.8,57.3 L144.4,57.4 L146.1,57.4 L147.7,57.5 L149.3,57.5 L151.0,57.6 L152.6,57.6 L154.3,57.7 L155.9,57.7 L157.5,57.8 L159.2,57.8 L160.8,57.9 L162.4,57.9 L164.1,58.0 L165.7,58.1 L167.3,58.2 L169.0,58.3 L170.6,58.5 L172.2,58.6 L173.8,58.8 L175.5,59.0 L177.1,59.2 L178.7,59.4 L180.3,59.7 L181.9,60.0 L183.5,60.3 L185.1,60.7 L186.7,61.0 L188.3,61.4 L189.9,61.8 L191.5,62.2 L193.1,62.6 L194.7,63.1 L196.2,63.5 L197.8,64.0 L199.4,64.4 L201.0,64.9 L202.5,65.4 L204.1,65.8 L205.7,66.3 L207.2,66.8 L208.8,67.2 L210.4,67.7 L211.9,68.2 L213.5,68.6 L215.1,69.1 L216.6,69.6 L218.2,70.1 L219.7,70.5 L221.3,71.0 L222.8,71.6 L224.3,72.1 L225.9,72.6 L227.4,73.1 L229.0,73.7 L230.5,74.3 L232.0,74.9 L233.5,75.5 L235.1,76.1 L236.6,76.8 L238.1,77.5 L239.6,78.2 L241.1,78.9 L242.6,79.7 L244.0,80.5 L245.5,81.3 L246.8,82.2 L248.2,83.1 L249.5,84.0 L250.8,85.0 L252.0,86.1 L253.2,87.1 L254.4,88.2 L255.5,89.4 L256.6,90.6 L257.7,91.8 L258.7,93.0 L259.7,94.3 L260.7,95.6 L261.7,96.9 L262.6,98.2 L263.5,99.6 L264.4,100.9 L265.2,102.3 L266.0,103.8 L266.8,105.2 L267.6,106.6 L268.4,108.1 L269.2,109.6 L269.9,111.1 L270.7,112.5 L271.4,114.0 L272.1,115.5 L272.8,117.0 L273.5,118.6 L274.1,120.1 L274.8,121.6 L275.5,123.1 L276.1,124.6 L276.8,126.1 L277.4,127.6 L278.0,129.1 L278.7,130.6 L279.3,132.2 L279.9,133.7 L280.5,135.2 L281.1,136.7 L281.7,138.2 L282.3,139.7 L282.9,141.3 L283.5,142.8 L284.0,144.3 L284.6,145.8 L285.2,147.4 L285.7,148.9 L286.3,150.4 L286.8,152.0 L287.3,153.5 L287.9,155.0 L288.4,156.6 L288.9,158.1 L289.5,159.7 L290.0,161.2 L290.5,162.7 L291.0,164.3 L291.5,165.8 L292.0,167.4 L292.5,168.9 L293.0,170.5 L293.5,172.1 L294.0,173.6 L294.5,175.2 L295.0,176.7 L295.5,178.3 L295.9,179.9 L296.4,181.4 L296.9,183.0 L297.4,184.6 L297.9,186.1 L298.4,187.7 L298.9,189.3 L299.4,190.8 L299.9,192.4 L300.4,193.9 L301.0,195.5 L301.5,197.1 L302.0,198.6 L302.6,200.1 L303.2,201.7 L303.7,203.2 L304.3,204.8 L304.9,206.3 L305.5,207.8 L306.1,209.3 L306.7,210.8 L307.4,212.3 L308.0,213.8 L308.7,215.3 L309.4,216.8 L310.1,218.3 L310.8,219.7 L311.6,221.2 L312.3,222.7 L313.1,224.1 L313.9,225.5 L314.8,226.9 L315.7,228.3 L316.6,229.7 L317.5,231.0 L318.6,232.2 L319.6,233.5 L320.8,234.6 L322.0,235.7 L323.3,236.8 L324.6,237.7 L326.1,238.5 L327.6,239.2 L329.1,239.6 L330.8,239.7 L332.4,239.5 L334.1,239.1 L335.6,238.4 L336.9,237.5 L338.1,236.4 L339.2,235.2 L340.2,233.9 L341.2,232.6 L342.2,231.3 L343.1,230.0 L344.0,228.6 L344.9,227.2 L345.8,225.8 L346.7,224.4 L347.5,223.0 L348.3,221.6 L349.1,220.1 L349.9,218.7 L350.7,217.2 L351.4,215.8 L352.2,214.3 L352.9,212.8 L353.6,211.4 L354.3,209.9 L355.0,208.4 L355.7,206.9 L356.4,205.4 L357.0,203.9 L357.7,202.4 L358.3,200.9 L359.0,199.4 L359.6,197.9 L360.2,196.4 L360.8,194.9 L361.4,193.3 L362.0,191.8 L362.6,190.3 L363.1,188.8 L363.7,187.2 L364.3,185.7 L364.8,184.2 L365.4,182.6 L365.9,181.1 L366.4,179.6 L367.0,178.0 L367.5,176.5 L368.1,174.9 L368.6,173.4 L369.1,171.9 L369.6,170.3 L370.2,168.8 L370.7,167.2 L371.2,165.7 L371.7,164.1 L372.2,162.6 L372.8,161.0 L373.3,159.5 L373.8,157.9 L374.4,156.4 L374.9,154.8 L375.4,153.3 L376.0,151.8 L376.5,150.2 L377.0,148.7 L377.6,147.1 L378.2,145.6 L378.7,144.1 L379.3,142.5 L379.9,141.0 L380.4,139.5 L381.0,137.9 L381.6,136.4 L382.2,134.9 L382.8,133.4 L383.4,131.9 L384.1,130.3 L384.7,128.8 L385.4,127.3 L386.0,125.8 L386.7,124.3 L387.4,122.8 L388.1,121.3 L388.8,119.9 L389.5,118.4 L390.2,116.9 L391.0,115.4 L391.7,114.0 L392.5,112.5 L393.3,111.0 L394.1,109.6 L394.9,108.1 L395.7,106.7 L396.6,105.3 L397.5,103.9 L398.4,102.5 L399.3,101.2 L400.3,99.8 L401.2,98.5 L402.2,97.3 L403.3,96.0 L404.3,94.8 L405.4,93.6 L406.5,92.5 L407.7,91.4 L408.9,90.3 L410.1,89.3 L411.4,88.3 L412.7,87.4 L414.0,86.5 L415.4,85.6 L416.8,84.8 L418.2,84.1 L419.7,83.4 L421.1,82.7 L422.7,82.0 L424.2,81.4 L425.7,80.8 L427.3,80.2 L428.8,79.6 L430.4,79.1 L432.0,78.5 L433.6,78.0 L435.2,77.5 L436.8,77.0 L438.3,76.4 L439.9,75.9 L441.5,75.4 L443.0,74.9 L444.6,74.3 L446.1,73.8 L447.6,73.3 L449.1,72.7 L450.7,72.2 L452.2,71.6 L453.7,71.1 L455.2,70.5 L456.7,69.9 L458.2,69.3 L459.8,68.8 L461.3,68.2 L462.8,67.6 L464.3,67.0 L465.9,66.4 L467.4,65.8 L469.0,65.3 L470.5,64.7 L472.1,64.2 L473.6,63.6 L475.2,63.1 L476.8,62.6 L478.3,62.2 L479.9,61.8 L481.5,61.4 L483.1,61.1 L484.7,60.8 L486.3,60.5 L487.9,60.3 L489.5,60.1 L491.2,59.9 L492.8,59.7 L494.4,59.6 L496.0,59.4 L497.7,59.3 L499.3,59.2 L500.9,59.2 L502.6,59.1 L504.2,59.1 L505.9,59.0 L507.5,59.0 L509.1,58.9 L510.8,58.9 L512.4,58.9 L514.1,58.9 L515.7,58.8 L517.3,58.8 L519.0,58.8 L520.6,58.7 L522.3,58.7 L523.9,58.6 L525.5,58.5 L527.1,58.4 L528.8,58.3 L530.4,58.2"/>
</g>
<rect x="80.7" y="8.2" width="449.7" height="266.2" stroke="#000" stroke-width="1.5" fill="none"/>
<g font-size="15.2px">
<text x="80.7" y="294.7" text-anchor="middle">0</text>
<text x="155.7" y="294.7" text-anchor="middle">500</text>
<text x="230.6" y="294.7" text-anchor="middle">1,000</text>
<text x="305.6" y="294.7" text-anchor="middle">1,500</text>
<text x="380.5" y="294.7" text-anchor="middle">2,000</text>
<text x="455.4" y="294.7" text-anchor="middle">2,500</text>
<text x="530.4" y="294.7" text-anchor="middle">3,000</text>
<text x="73.3" y="279.0" text-anchor="end">0.988</text>
<text x="73.3" y="238.0" text-anchor="end">0.990</text>
<text x="73.3" y="197.1" text-anchor="end">0.992</text>
<text x="73.3" y="156.1" text-anchor="end">0.994</text>
<text x="73.3" y="115.1" text-anchor="end">0.996</text>
<text x="73.3" y="74.2" text-anchor="end">0.998</text>
<text x="73.3" y="33.2" text-anchor="end">1.000</text>
</g>
<text x="305.6" y="323.0" font-size="18.9px" text-anchor="middle">Distance (mm)</text>
<text transform="translate(17.3,128.0) rotate(-90)" font-size="18.6px" letter-spacing="-0.2" text-anchor="middle">Normalized</text>
<g font-size="13.4px">
<path d="M448.9,122.6H479.8" stroke="#515151" stroke-width="1.2" fill="none"/>
<text x="483.6" y="126.8">Sen1</text>
<path d="M448.9,139.5H479.8" stroke="#F14040" stroke-width="1.2" fill="none"/>
<text x="483.6" y="143.7">Sen2</text>
<path d="M448.9,156.4H479.8" stroke="#1A6FDF" stroke-width="1.2" fill="none"/>
<text x="483.6" y="160.6">Sen3</text>
<path d="M448.9,173.3H479.8" stroke="#37AD6B" stroke-width="1.2" fill="none"/>
<text x="483.6" y="177.5">Sen4</text>
<path d="M448.9,190.2H479.8" stroke="#B177DE" stroke-width="1.2" fill="none"/>
<text x="483.6" y="194.4">Sen5</text>
<path d="M448.9,207.1H479.8" stroke="#CC9900" stroke-width="1.2" fill="none"/>
<text x="483.6" y="211.3">Sen6</text>
<path d="M448.9,224.0H479.8" stroke="#00CBCC" stroke-width="1.2" fill="none"/>
<text x="483.6" y="228.2">Sen7</text>
<path d="M448.9,240.9H479.8" stroke="#7D4E4E" stroke-width="1.2" fill="none"/>
<text x="483.6" y="245.1">Sen8</text>
</g>
</svg></body></html>
